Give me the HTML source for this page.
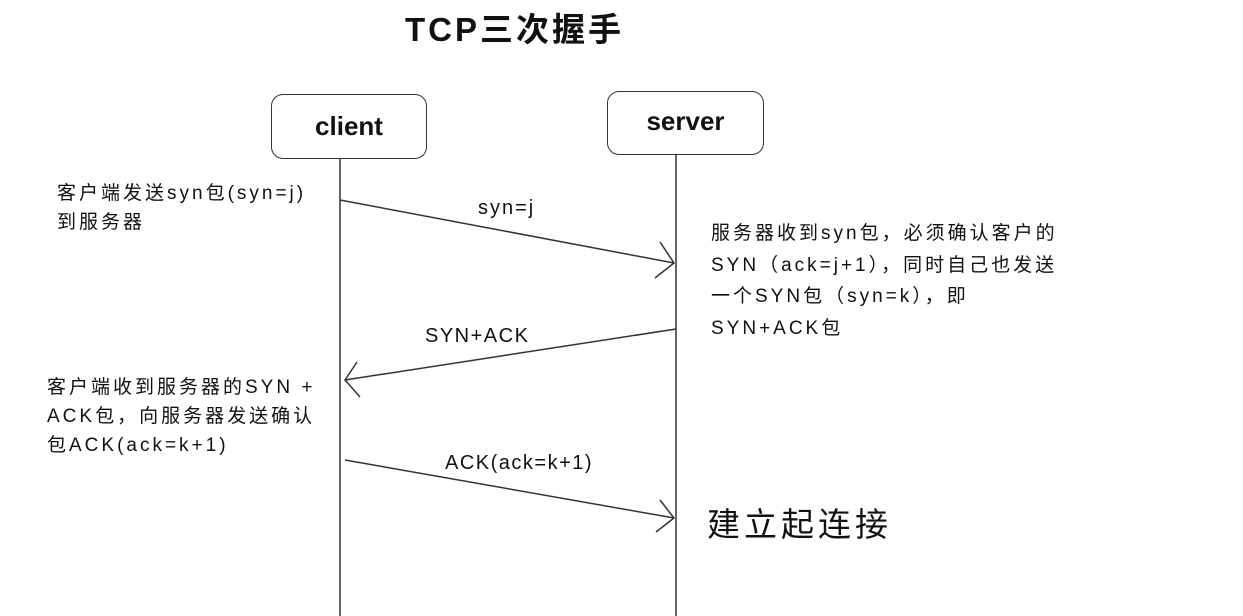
<!DOCTYPE html>
<html><head><meta charset="utf-8"><style>
body{margin:0;background:#fff;width:1243px;height:616px;overflow:hidden;position:relative;font-family:"Liberation Sans","Noto Sans CJK SC",sans-serif;color:#111}
.t{position:absolute;white-space:nowrap;font-size:19px;line-height:29px;letter-spacing:3px}
.box{position:absolute;border:1.5px solid #333;border-radius:12px;background:#fff;text-align:center;font-size:26px;font-weight:bold}
</style></head><body>
<div class="t" style="left:405px;top:8px;font-size:33px;font-weight:bold;line-height:44px;letter-spacing:3px">TCP三次握手</div>
<svg width="1243" height="616" style="position:absolute;left:0;top:0">
<g stroke="#333" stroke-width="1.5" fill="none">
<line x1="340" y1="159" x2="340" y2="616"/>
<line x1="676" y1="155" x2="676" y2="616"/>
<line x1="340" y1="200" x2="674" y2="263"/>
<polyline points="660,242 674,263 655,278"/>
<line x1="676" y1="329" x2="345" y2="380"/>
<polyline points="357,362 345,380 360,397"/>
<line x1="345" y1="460" x2="674" y2="518"/>
<polyline points="660,500 674,518 656,532"/>
</g></svg>
<div class="box" style="left:271px;top:94px;width:154px;height:63px;line-height:63px">client</div>
<div class="box" style="left:607px;top:91px;width:155px;height:62px;line-height:58px">server</div>
<div class="t" style="left:478px;top:194px;font-size:20px;letter-spacing:2px">syn=j</div>
<div class="t" style="left:425px;top:322px;font-size:20px;letter-spacing:1.5px">SYN+ACK</div>
<div class="t" style="left:445px;top:449px;font-size:20px;letter-spacing:1.5px">ACK(ack=k+1)</div>
<div class="t" style="left:57px;top:179px">客户端发送syn包(syn=j)<br>到服务器</div>
<div class="t" style="left:47px;top:373px">客户端收到服务器的SYN +<br>ACK包，向服务器发送确认<br>包ACK(ack=k+1)</div>
<div class="t" style="left:711px;top:218px;line-height:31.5px">服务器收到syn包，必须确认客户的<br>SYN（ack=j+1），同时自己也发送<br>一个SYN包（syn=k），即<br>SYN+ACK包</div>
<div class="t" style="left:707px;top:504px;font-size:33px;line-height:42px;letter-spacing:4px">建立起连接</div>
</body></html>
